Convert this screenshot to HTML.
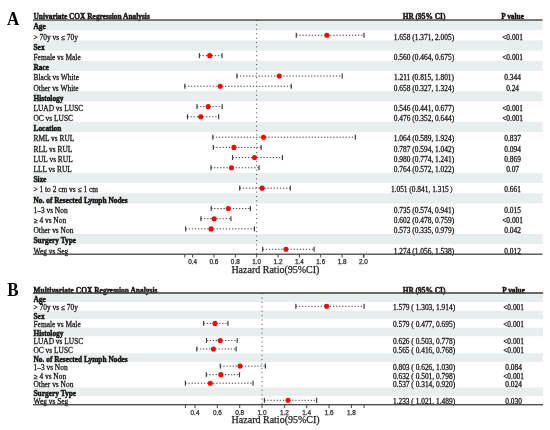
<!DOCTYPE html>
<html><head><meta charset="utf-8"><style>
html,body{margin:0;padding:0;background:#fff;}
body{width:550px;height:430px;overflow:hidden;}
svg{display:block;}
text{font-family:"Liberation Serif","Noto Serif CJK SC",serif;fill:#151515;}
.r{font-size:7.4px;stroke:#151515;stroke-width:0.26px;}
.b{font-size:7.4px;font-weight:bold;stroke:#151515;stroke-width:0.42px;}
.lt{font-size:19px;font-weight:bold;fill:#000;}
.tk{font-family:"Liberation Sans",sans-serif;font-size:6.4px;fill:#2a2a2a;stroke:#2a2a2a;stroke-width:0.25px;}
.ax{font-size:10px;fill:#1e1e1e;stroke:#1e1e1e;stroke-width:0.25px;}
</style></head><body>
<svg width="550" height="430" viewBox="0 0 550 430">
<text transform="translate(7.0,24.6) scale(0.89,1)" class="lt">A</text>
<rect x="33" y="20.00" width="509.5" height="10.19" fill="#e8eded"/>
<rect x="33" y="40.38" width="509.5" height="10.19" fill="#e8eded"/>
<rect x="33" y="60.76" width="509.5" height="10.19" fill="#e8eded"/>
<rect x="33" y="91.33" width="509.5" height="10.19" fill="#e8eded"/>
<rect x="33" y="121.90" width="509.5" height="10.19" fill="#e8eded"/>
<rect x="33" y="172.85" width="509.5" height="10.19" fill="#e8eded"/>
<rect x="33" y="193.23" width="509.5" height="10.19" fill="#e8eded"/>
<rect x="33" y="233.99" width="509.5" height="10.19" fill="#e8eded"/>
<text x="33.50" y="19.10" class="b" letter-spacing="0">Univariate COX Regression Analysis</text>
<text x="424.00" y="19.10" class="b" text-anchor="middle">HR (95% CI)</text>
<text x="512.60" y="19.10" class="b" text-anchor="middle">P value</text>
<rect x="33" y="19.3" width="509.5" height="1.4" fill="#454545"/>
<line x1="256.67" y1="20.00" x2="256.67" y2="254.37" stroke="#3c4346" stroke-width="1" stroke-dasharray="1 3.4"/>
<text x="33.50" y="29.40" class="b">Age</text>
<text x="33.50" y="39.59" class="r">&gt; 70y vs ≤ 70y</text>
<text x="424.00" y="39.59" class="r" text-anchor="middle">1.658 (1.371, 2.005)</text>
<text x="512.60" y="39.59" class="r" text-anchor="middle">&lt;0.001</text>
<line x1="296.29" y1="35.29" x2="364.00" y2="35.29" stroke="#3c4346" stroke-width="1" stroke-dasharray="1.3 1.79"/>
<rect x="295.69" y="32.79" width="1.2" height="5" fill="#3c4346"/>
<rect x="363.40" y="32.79" width="1.2" height="5" fill="#3c4346"/>
<circle cx="326.94" cy="35.29" r="2.55" fill="#ff0000"/>
<text x="33.50" y="49.78" class="b">Sex</text>
<text x="33.50" y="59.97" class="r">Female vs Male</text>
<text x="424.00" y="59.97" class="r" text-anchor="middle">0.560 (0.464, 0.675)</text>
<text x="512.60" y="59.97" class="r" text-anchor="middle">&lt;0.001</text>
<line x1="199.43" y1="55.67" x2="221.96" y2="55.67" stroke="#3c4346" stroke-width="1" stroke-dasharray="1.3 1.79"/>
<rect x="198.83" y="53.17" width="1.2" height="5" fill="#3c4346"/>
<rect x="221.36" y="53.17" width="1.2" height="5" fill="#3c4346"/>
<circle cx="209.68" cy="55.67" r="2.55" fill="#ff0000"/>
<text x="33.50" y="70.16" class="b">Race</text>
<text x="33.50" y="80.35" class="r">Black vs White</text>
<text x="424.00" y="80.35" class="r" text-anchor="middle">1.211 (0.815, 1.801)</text>
<text x="512.60" y="80.35" class="r" text-anchor="middle">0.344</text>
<line x1="236.92" y1="76.05" x2="342.21" y2="76.05" stroke="#3c4346" stroke-width="1" stroke-dasharray="1.3 1.79"/>
<rect x="236.32" y="73.55" width="1.2" height="5" fill="#3c4346"/>
<rect x="341.61" y="73.55" width="1.2" height="5" fill="#3c4346"/>
<circle cx="279.21" cy="76.05" r="2.55" fill="#ff0000"/>
<text x="33.50" y="90.54" class="r">Other vs White</text>
<text x="424.00" y="90.54" class="r" text-anchor="middle">0.658 (0.327, 1.324)</text>
<text x="512.60" y="90.54" class="r" text-anchor="middle">0.24</text>
<line x1="184.80" y1="86.24" x2="291.27" y2="86.24" stroke="#3c4346" stroke-width="1" stroke-dasharray="1.3 1.79"/>
<rect x="184.20" y="83.74" width="1.2" height="5" fill="#3c4346"/>
<rect x="290.67" y="83.74" width="1.2" height="5" fill="#3c4346"/>
<circle cx="220.15" cy="86.24" r="2.55" fill="#ff0000"/>
<text x="33.50" y="100.73" class="b">Histology</text>
<text x="33.50" y="110.92" class="r">LUAD vs LUSC</text>
<text x="424.00" y="110.92" class="r" text-anchor="middle">0.546 (0.441, 0.677)</text>
<text x="512.60" y="110.92" class="r" text-anchor="middle">&lt;0.001</text>
<line x1="196.97" y1="106.62" x2="222.18" y2="106.62" stroke="#3c4346" stroke-width="1" stroke-dasharray="1.3 1.79"/>
<rect x="196.37" y="104.12" width="1.2" height="5" fill="#3c4346"/>
<rect x="221.58" y="104.12" width="1.2" height="5" fill="#3c4346"/>
<circle cx="208.19" cy="106.62" r="2.55" fill="#ff0000"/>
<text x="33.50" y="121.11" class="r">OC vs LUSC</text>
<text x="424.00" y="121.11" class="r" text-anchor="middle">0.476 (0.352, 0.644)</text>
<text x="512.60" y="121.11" class="r" text-anchor="middle">&lt;0.001</text>
<line x1="187.47" y1="116.81" x2="218.65" y2="116.81" stroke="#3c4346" stroke-width="1" stroke-dasharray="1.3 1.79"/>
<rect x="186.87" y="114.31" width="1.2" height="5" fill="#3c4346"/>
<rect x="218.05" y="114.31" width="1.2" height="5" fill="#3c4346"/>
<circle cx="200.71" cy="116.81" r="2.55" fill="#ff0000"/>
<text x="33.50" y="131.30" class="b">Location</text>
<text x="33.50" y="141.49" class="r">RML vs RUL</text>
<text x="424.00" y="141.49" class="r" text-anchor="middle">1.064 (0.589, 1.924)</text>
<text x="512.60" y="141.49" class="r" text-anchor="middle">0.837</text>
<line x1="212.78" y1="137.19" x2="355.35" y2="137.19" stroke="#3c4346" stroke-width="1" stroke-dasharray="1.3 1.79"/>
<rect x="212.18" y="134.69" width="1.2" height="5" fill="#3c4346"/>
<rect x="354.75" y="134.69" width="1.2" height="5" fill="#3c4346"/>
<circle cx="263.51" cy="137.19" r="2.55" fill="#ff0000"/>
<text x="33.50" y="151.68" class="r">RLL vs RUL</text>
<text x="424.00" y="151.68" class="r" text-anchor="middle">0.787 (0.594, 1.042)</text>
<text x="512.60" y="151.68" class="r" text-anchor="middle">0.094</text>
<line x1="213.31" y1="147.38" x2="261.16" y2="147.38" stroke="#3c4346" stroke-width="1" stroke-dasharray="1.3 1.79"/>
<rect x="212.71" y="144.88" width="1.2" height="5" fill="#3c4346"/>
<rect x="260.56" y="144.88" width="1.2" height="5" fill="#3c4346"/>
<circle cx="233.93" cy="147.38" r="2.55" fill="#ff0000"/>
<text x="33.50" y="161.87" class="r">LUL vs RUL</text>
<text x="424.00" y="161.87" class="r" text-anchor="middle">0.980 (0.774, 1.241)</text>
<text x="512.60" y="161.87" class="r" text-anchor="middle">0.869</text>
<line x1="232.54" y1="157.57" x2="282.41" y2="157.57" stroke="#3c4346" stroke-width="1" stroke-dasharray="1.3 1.79"/>
<rect x="231.94" y="155.07" width="1.2" height="5" fill="#3c4346"/>
<rect x="281.81" y="155.07" width="1.2" height="5" fill="#3c4346"/>
<circle cx="254.54" cy="157.57" r="2.55" fill="#ff0000"/>
<text x="33.50" y="172.06" class="r">LLL vs RUL</text>
<text x="424.00" y="172.06" class="r" text-anchor="middle">0.764 (0.572, 1.022)</text>
<text x="512.60" y="172.06" class="r" text-anchor="middle">0.07</text>
<line x1="210.96" y1="167.76" x2="259.02" y2="167.76" stroke="#3c4346" stroke-width="1" stroke-dasharray="1.3 1.79"/>
<rect x="210.36" y="165.26" width="1.2" height="5" fill="#3c4346"/>
<rect x="258.42" y="165.26" width="1.2" height="5" fill="#3c4346"/>
<circle cx="231.47" cy="167.76" r="2.55" fill="#ff0000"/>
<text x="33.50" y="182.25" class="b">Size</text>
<text x="33.50" y="192.44" class="r">&gt; 1 to 2 cm vs ≤ 1 cm</text>
<text x="424.00" y="192.44" class="r" text-anchor="middle">1.051 (0.841, 1.315<tspan dx="0.9">）</tspan></text>
<text x="512.60" y="192.44" class="r" text-anchor="middle">0.661</text>
<line x1="239.69" y1="188.14" x2="290.31" y2="188.14" stroke="#3c4346" stroke-width="1" stroke-dasharray="1.3 1.79"/>
<rect x="239.09" y="185.64" width="1.2" height="5" fill="#3c4346"/>
<rect x="289.71" y="185.64" width="1.2" height="5" fill="#3c4346"/>
<circle cx="262.12" cy="188.14" r="2.55" fill="#ff0000"/>
<text x="33.50" y="202.63" class="b">No. of Resected Lymph Nodes</text>
<text x="33.50" y="212.82" class="r">1–3 vs Non</text>
<text x="424.00" y="212.82" class="r" text-anchor="middle">0.735 (0.574, 0.941)</text>
<text x="512.60" y="212.82" class="r" text-anchor="middle">0.015</text>
<line x1="211.18" y1="208.52" x2="250.37" y2="208.52" stroke="#3c4346" stroke-width="1" stroke-dasharray="1.3 1.79"/>
<rect x="210.58" y="206.02" width="1.2" height="5" fill="#3c4346"/>
<rect x="249.77" y="206.02" width="1.2" height="5" fill="#3c4346"/>
<circle cx="228.37" cy="208.52" r="2.55" fill="#ff0000"/>
<text x="33.50" y="223.01" class="r">≥ 4 vs Non</text>
<text x="424.00" y="223.01" class="r" text-anchor="middle">0.602 (0.478, 0.759)</text>
<text x="512.60" y="223.01" class="r" text-anchor="middle">&lt;0.001</text>
<line x1="200.93" y1="218.71" x2="230.93" y2="218.71" stroke="#3c4346" stroke-width="1" stroke-dasharray="1.3 1.79"/>
<rect x="200.33" y="216.21" width="1.2" height="5" fill="#3c4346"/>
<rect x="230.33" y="216.21" width="1.2" height="5" fill="#3c4346"/>
<circle cx="214.17" cy="218.71" r="2.55" fill="#ff0000"/>
<text x="33.50" y="233.20" class="r">Other vs Non</text>
<text x="424.00" y="233.20" class="r" text-anchor="middle">0.573 (0.335, 0.979)</text>
<text x="512.60" y="233.20" class="r" text-anchor="middle">0.042</text>
<line x1="185.65" y1="228.90" x2="254.43" y2="228.90" stroke="#3c4346" stroke-width="1" stroke-dasharray="1.3 1.79"/>
<rect x="185.05" y="226.40" width="1.2" height="5" fill="#3c4346"/>
<rect x="253.83" y="226.40" width="1.2" height="5" fill="#3c4346"/>
<circle cx="211.07" cy="228.90" r="2.55" fill="#ff0000"/>
<text x="33.50" y="243.39" class="b">Surgery Type</text>
<text x="33.50" y="253.58" class="r">Weg vs Seg</text>
<text x="424.00" y="253.58" class="r" text-anchor="middle">1.274 (1.056, 1.538)</text>
<text x="512.60" y="253.58" class="r" text-anchor="middle">0.012</text>
<line x1="262.65" y1="249.28" x2="314.13" y2="249.28" stroke="#3c4346" stroke-width="1" stroke-dasharray="1.3 1.79"/>
<rect x="262.05" y="246.78" width="1.2" height="5" fill="#3c4346"/>
<rect x="313.53" y="246.78" width="1.2" height="5" fill="#3c4346"/>
<circle cx="285.93" cy="249.28" r="2.55" fill="#ff0000"/>
<rect x="33" y="253.55" width="509.5" height="1.3" fill="#454545"/>
<rect x="184.30" y="254.20" width="1" height="3.3" fill="#454545"/>
<rect x="192.10" y="254.20" width="1" height="3.3" fill="#454545"/>
<rect x="213.45" y="254.20" width="1" height="3.3" fill="#454545"/>
<rect x="234.81" y="254.20" width="1" height="3.3" fill="#454545"/>
<rect x="256.17" y="254.20" width="1" height="3.3" fill="#454545"/>
<rect x="277.53" y="254.20" width="1" height="3.3" fill="#454545"/>
<rect x="298.89" y="254.20" width="1" height="3.3" fill="#454545"/>
<rect x="320.25" y="254.20" width="1" height="3.3" fill="#454545"/>
<rect x="341.61" y="254.20" width="1" height="3.3" fill="#454545"/>
<rect x="362.97" y="254.20" width="1" height="3.3" fill="#454545"/>
<rect x="363.50" y="254.20" width="1" height="3.3" fill="#454545"/>
<text x="192.60" y="264.2" class="tk" text-anchor="middle">0.4</text>
<text x="213.95" y="264.2" class="tk" text-anchor="middle">0.6</text>
<text x="235.31" y="264.2" class="tk" text-anchor="middle">0.8</text>
<text x="256.67" y="264.2" class="tk" text-anchor="middle">1.0</text>
<text x="278.03" y="264.2" class="tk" text-anchor="middle">1.2</text>
<text x="299.39" y="264.2" class="tk" text-anchor="middle">1.4</text>
<text x="320.75" y="264.2" class="tk" text-anchor="middle">1.6</text>
<text x="342.11" y="264.2" class="tk" text-anchor="middle">1.8</text>
<text x="363.47" y="264.2" class="tk" text-anchor="middle">2.0</text>
<text x="231.4" y="273" class="ax">Hazard Ratio(95%CI)</text>
<text transform="translate(7.2,295.6) scale(0.89,1)" class="lt">B</text>
<rect x="33" y="293.50" width="510" height="8.54" fill="#e8eded"/>
<rect x="33" y="310.59" width="510" height="8.54" fill="#e8eded"/>
<rect x="33" y="327.68" width="510" height="8.54" fill="#e8eded"/>
<rect x="33" y="353.31" width="510" height="8.54" fill="#e8eded"/>
<rect x="33" y="387.50" width="510" height="8.54" fill="#e8eded"/>
<text x="33.50" y="293.00" class="b" letter-spacing="0.045">Multivariate COX Regression Analysis</text>
<text x="424.00" y="293.00" class="b" text-anchor="middle">HR (95% CI)</text>
<text x="513.60" y="293.00" class="b" text-anchor="middle">P value</text>
<rect x="33" y="292.2" width="510" height="1.6" fill="#454545"/>
<line x1="262.02" y1="293.10" x2="262.02" y2="404.58" stroke="#3c4346" stroke-width="1" stroke-dasharray="1 3.4"/>
<text x="33.50" y="301.70" class="b">Age</text>
<text x="33.50" y="310.25" class="r">&gt; 70y vs ≤ 70y</text>
<text x="424.00" y="310.25" class="r" text-anchor="middle">1.579 ( 1.303, 1.914)</text>
<text x="513.60" y="310.25" class="r" text-anchor="middle">&lt;0.001</text>
<line x1="295.86" y1="306.30" x2="364.10" y2="306.30" stroke="#3c4346" stroke-width="1" stroke-dasharray="1.3 1.79"/>
<rect x="295.26" y="303.80" width="1.2" height="5" fill="#3c4346"/>
<rect x="363.50" y="303.80" width="1.2" height="5" fill="#3c4346"/>
<circle cx="326.68" cy="306.30" r="2.55" fill="#ff0000"/>
<text x="33.50" y="318.79" class="b">Sex</text>
<text x="33.50" y="327.33" class="r">Female vs Male</text>
<text x="424.00" y="327.33" class="r" text-anchor="middle">0.579 ( 0.477, 0.695)</text>
<text x="513.60" y="327.33" class="r" text-anchor="middle">&lt;0.001</text>
<line x1="203.61" y1="323.38" x2="227.95" y2="323.38" stroke="#3c4346" stroke-width="1" stroke-dasharray="1.3 1.79"/>
<rect x="203.01" y="320.88" width="1.2" height="5" fill="#3c4346"/>
<rect x="227.35" y="320.88" width="1.2" height="5" fill="#3c4346"/>
<circle cx="215.00" cy="323.38" r="2.55" fill="#ff0000"/>
<text x="33.50" y="335.88" class="b">Histology</text>
<text x="33.50" y="344.43" class="r">LUAD vs LUSC</text>
<text x="424.00" y="344.43" class="r" text-anchor="middle">0.626 ( 0.503, 0.778)</text>
<text x="513.60" y="344.43" class="r" text-anchor="middle">&lt;0.001</text>
<line x1="206.51" y1="340.48" x2="237.22" y2="340.48" stroke="#3c4346" stroke-width="1" stroke-dasharray="1.3 1.79"/>
<rect x="205.91" y="337.98" width="1.2" height="5" fill="#3c4346"/>
<rect x="236.62" y="337.98" width="1.2" height="5" fill="#3c4346"/>
<circle cx="220.25" cy="340.48" r="2.55" fill="#ff0000"/>
<text x="33.50" y="352.97" class="r">OC vs LUSC</text>
<text x="424.00" y="352.97" class="r" text-anchor="middle">0.565 ( 0.416, 0.768)</text>
<text x="513.60" y="352.97" class="r" text-anchor="middle">&lt;0.001</text>
<line x1="196.79" y1="349.02" x2="236.11" y2="349.02" stroke="#3c4346" stroke-width="1" stroke-dasharray="1.3 1.79"/>
<rect x="196.19" y="346.52" width="1.2" height="5" fill="#3c4346"/>
<rect x="235.51" y="346.52" width="1.2" height="5" fill="#3c4346"/>
<circle cx="213.43" cy="349.02" r="2.55" fill="#ff0000"/>
<text x="33.50" y="361.51" class="b">No. of Resected Lymph Nodes</text>
<text x="33.50" y="370.06" class="r">1–3 vs Non</text>
<text x="424.00" y="370.06" class="r" text-anchor="middle">0.803 ( 0.626, 1.030)</text>
<text x="513.60" y="370.06" class="r" text-anchor="middle">0.084</text>
<line x1="220.25" y1="366.11" x2="265.37" y2="366.11" stroke="#3c4346" stroke-width="1" stroke-dasharray="1.3 1.79"/>
<rect x="219.65" y="363.61" width="1.2" height="5" fill="#3c4346"/>
<rect x="264.77" y="363.61" width="1.2" height="5" fill="#3c4346"/>
<circle cx="240.02" cy="366.11" r="2.55" fill="#ff0000"/>
<text x="33.50" y="378.60" class="r">≥ 4 vs Non</text>
<text x="424.00" y="378.60" class="r" text-anchor="middle">0.632 ( 0.501, 0.798)</text>
<text x="513.60" y="378.60" class="r" text-anchor="middle">&lt;0.001</text>
<line x1="206.29" y1="374.65" x2="239.46" y2="374.65" stroke="#3c4346" stroke-width="1" stroke-dasharray="1.3 1.79"/>
<rect x="205.69" y="372.15" width="1.2" height="5" fill="#3c4346"/>
<rect x="238.86" y="372.15" width="1.2" height="5" fill="#3c4346"/>
<circle cx="220.92" cy="374.65" r="2.55" fill="#ff0000"/>
<text x="33.50" y="387.15" class="r">Other vs Non</text>
<text x="424.00" y="387.15" class="r" text-anchor="middle">0.537 ( 0.314, 0.920)</text>
<text x="513.60" y="387.15" class="r" text-anchor="middle">0.024</text>
<line x1="185.40" y1="383.20" x2="253.08" y2="383.20" stroke="#3c4346" stroke-width="1" stroke-dasharray="1.3 1.79"/>
<rect x="184.80" y="380.70" width="1.2" height="5" fill="#3c4346"/>
<rect x="252.48" y="380.70" width="1.2" height="5" fill="#3c4346"/>
<circle cx="210.31" cy="383.20" r="2.55" fill="#ff0000"/>
<text x="33.50" y="395.69" class="b">Surgery Type</text>
<text x="33.50" y="404.24" class="r">Weg vs Seg</text>
<text x="424.00" y="404.24" class="r" text-anchor="middle">1.233 ( 1.021, 1.489)</text>
<text x="513.60" y="404.24" class="r" text-anchor="middle">0.030</text>
<line x1="264.36" y1="400.29" x2="316.63" y2="400.29" stroke="#3c4346" stroke-width="1" stroke-dasharray="1.3 1.79"/>
<rect x="263.76" y="397.79" width="1.2" height="5" fill="#3c4346"/>
<rect x="316.03" y="397.79" width="1.2" height="5" fill="#3c4346"/>
<circle cx="288.04" cy="400.29" r="2.55" fill="#ff0000"/>
<rect x="33" y="404.05" width="510" height="1.3" fill="#454545"/>
<rect x="184.90" y="404.70" width="1" height="3.3" fill="#454545"/>
<rect x="194.51" y="404.70" width="1" height="3.3" fill="#454545"/>
<rect x="216.84" y="404.70" width="1" height="3.3" fill="#454545"/>
<rect x="239.18" y="404.70" width="1" height="3.3" fill="#454545"/>
<rect x="261.52" y="404.70" width="1" height="3.3" fill="#454545"/>
<rect x="283.86" y="404.70" width="1" height="3.3" fill="#454545"/>
<rect x="306.19" y="404.70" width="1" height="3.3" fill="#454545"/>
<rect x="328.53" y="404.70" width="1" height="3.3" fill="#454545"/>
<rect x="350.87" y="404.70" width="1" height="3.3" fill="#454545"/>
<rect x="363.60" y="404.70" width="1" height="3.3" fill="#454545"/>
<text x="195.01" y="414.8" class="tk" text-anchor="middle">0.4</text>
<text x="217.34" y="414.8" class="tk" text-anchor="middle">0.6</text>
<text x="239.68" y="414.8" class="tk" text-anchor="middle">0.8</text>
<text x="262.02" y="414.8" class="tk" text-anchor="middle">1.0</text>
<text x="284.36" y="414.8" class="tk" text-anchor="middle">1.2</text>
<text x="306.69" y="414.8" class="tk" text-anchor="middle">1.4</text>
<text x="329.03" y="414.8" class="tk" text-anchor="middle">1.6</text>
<text x="351.37" y="414.8" class="tk" text-anchor="middle">1.8</text>
<text x="231.6" y="422.7" class="ax">Hazard Ratio(95%CI)</text>
</svg>
</body></html>
